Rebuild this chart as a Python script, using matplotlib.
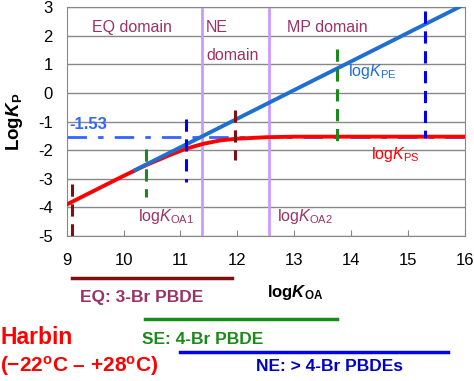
import numpy as np
import matplotlib.pyplot as plt
from matplotlib.transforms import blended_transform_factory

plt.rcParams['font.family'] = ['Liberation Sans', 'DejaVu Sans']
plt.rcParams['axes.unicode_minus'] = False
plt.rcParams['mathtext.fontset'] = 'custom'
plt.rcParams['mathtext.rm'] = 'Liberation Sans'
plt.rcParams['mathtext.it'] = 'Liberation Sans:italic'
plt.rcParams['mathtext.bf'] = 'Liberation Sans:bold'
plt.rcParams['mathtext.bfit'] = 'Liberation Sans:italic:bold'

# curves
koa_pe = [10.2, 16.0]
kpe = [-2.7, 3.1]
koa_ps = [9.0, 9.5, 10.0, 10.4, 10.8, 11.1, 11.4, 11.7, 12.0, 12.5, 13.0, 14.0, 16.0]
kps = [-3.9, -3.4, -2.9, -2.52, -2.18, -1.95, -1.78, -1.66, -1.6, -1.55, -1.53, -1.53, -1.53]
kps_max = -1.53
koa_lim = [11.38, 12.55]

# dashed markers: x, y0, y1, colour
marks_x = [9.1, 10.4, 11.1, 11.95, 13.75, 15.3]
marks_y0 = [-3.2, -1.95, -0.92, -0.6, 1.53, 2.85]
marks_y1 = [-5.0, -3.65, -3.1, -2.35, -1.93, -1.58]
marks_c = ['#7f1010', '#1a8a1a', '#0000ee', '#7f1010', '#1a8a1a', '#0000ee']

# compound ranges below the axis
range_names = ['EQ: 3-Br PBDE', 'SE: 4-Br PBDE', 'NE: > 4-Br PBDEs']
range_lo = [9.1, 10.38, 11.0]
range_hi = [11.9, 13.75, 15.7]
range_c = ['#7f1010', '#1a8a1a', '#0000ee']
range_tc = ['#993366', '#1a8a1a', '#0000cc']

fig = plt.figure(figsize=(4.74, 3.81), dpi=100)
ax = fig.add_axes([0.1407, 0.3806, 0.8403, 0.601])

ax.plot(koa_ps, kps, color='#ff0000', lw=2.8, zorder=4)
ax.plot(koa_pe, kpe, color='#1f6fd0', lw=2.8, zorder=5)
ax.plot([9, 16], [kps_max, kps_max], color='#3366ff', lw=2, dashes=[7, 4, 2, 4], zorder=3)
for x in koa_lim:
    ax.axvline(x, color='#cc99ff', lw=2, zorder=2)
for x, y0, y1, c in zip(marks_x, marks_y0, marks_y1, marks_c):
    ax.plot([x, x], [y0, y1], color=c, lw=2.2, dashes=[4, 2.5], zorder=6)

ax.set_xlim(9, 16)
ax.set_ylim(-5, 3)
ax.set_xticks(range(9, 17))
ax.set_yticks(range(-5, 4))
ax.yaxis.grid(True, color='#888888', lw=1)
ax.set_axisbelow(True)
for s in ax.spines.values():
    s.set_color('#888888')
ax.tick_params(axis='x', direction='in', length=4, color='#888888', labelsize=12, pad=12)
ax.tick_params(axis='y', length=0, labelsize=12, pad=10)

ax.set_ylabel(r'Log$\mathbfit{K}_{\mathbf{P}}$', fontsize=13.5, fontweight='bold')
ax.yaxis.set_label_coords(-0.105, 0.5)
ax.set_xlabel(r'log$\mathbfit{K}_{\mathbf{OA}}$', fontsize=12, fontweight='bold')
ax.xaxis.set_label_coords(0.573, -0.205)

dom = '#993366'
ax.text(9.45, 2.3, 'EQ domain', color=dom, fontsize=11.5, va='center')
ax.text(11.45, 2.3, 'NE', color=dom, fontsize=11.5, va='center')
ax.text(11.45, 1.3, 'domain', color=dom, fontsize=11.5, va='center')
ax.text(12.87, 2.3, 'MP domain', color=dom, fontsize=11.5, va='center')
ax.text(13.95, 0.75, r'log$\mathit{K}_{\mathrm{PE}}$', color='#1f6fd0', fontsize=11.5, va='center')
ax.text(14.35, -2.15, r'log$\mathit{K}_{\mathrm{PS}}$', color='#ff0000', fontsize=11.5, va='center')
ax.text(10.25, -4.33, r'log$\mathit{K}_{\mathrm{OA1}}$', color=dom, fontsize=11.5, va='center')
ax.text(12.7, -4.33, r'log$\mathit{K}_{\mathrm{OA2}}$', color=dom, fontsize=11.5, va='center')
ax.text(9.05, -1.12, '-1.53', color='#3366ff', fontsize=12, fontweight='bold', va='center')

tr = blended_transform_factory(ax.transData, fig.transFigure)
line_y = [0.270, 0.163, 0.077]
text_x = [9.23, 10.32, 12.32]
text_y = [0.218, 0.110, 0.037]
for name, lo, hi, c, tc, ly, tx, ty in zip(range_names, range_lo, range_hi, range_c, range_tc,
                                           line_y, text_x, text_y):
    ax.plot([lo, hi], [ly, ly], color=c, lw=2.5, transform=tr, clip_on=False)
    ax.text(tx, ty, name, color=tc, fontsize=12.5, fontweight='bold', va='center', transform=tr)

fig.text(0.0, 0.115, 'Harbin', color='#ff0000', fontsize=16.5, fontweight='bold', va='center')
fig.text(0.0, 0.039, r'(−22$^{\mathbf{o}}$C – +28$^{\mathbf{o}}$C)', color='#ff0000',
         fontsize=15, fontweight='bold', va='center')

fig.savefig('out.png', dpi=100)
